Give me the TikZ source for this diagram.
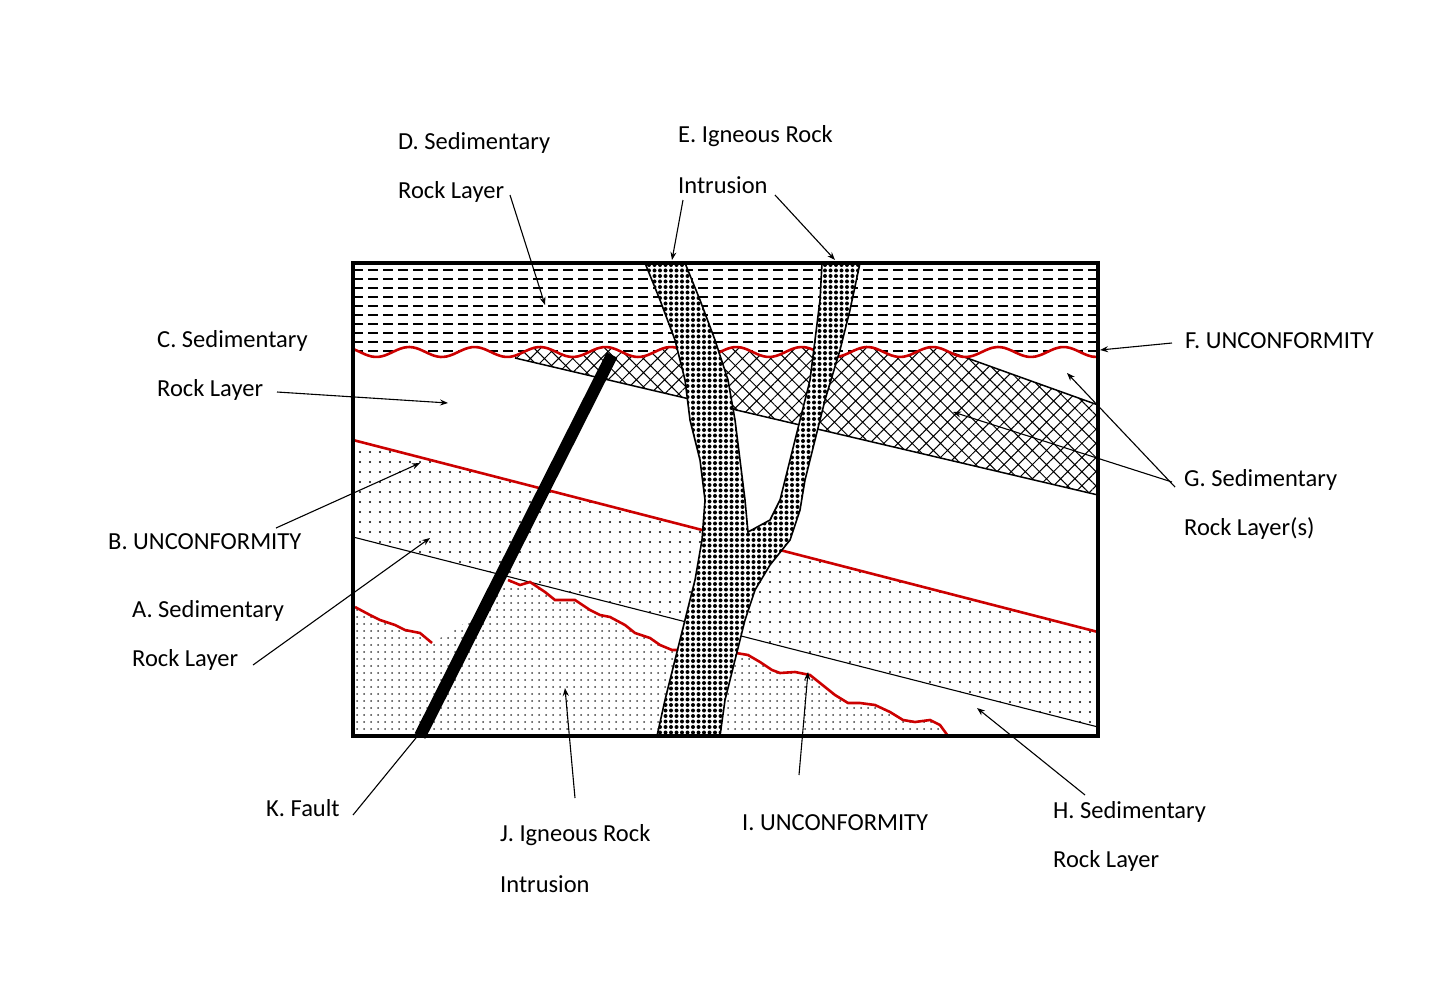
\documentclass[tikz,border=0pt]{standalone}
\usepackage{fontspec}
\setmainfont{Carlito}
\usetikzlibrary{patterns.meta,arrows.meta}
\begin{document}
\begin{tikzpicture}[x=1pt,y=-1pt,
  lbl/.style={anchor=west,inner sep=0pt,font=\fontsize{24.5}{28}\selectfont},
  arr/.style={-{Stealth[length=8pt,width=6pt]},line width=1.1pt},
  redl/.style={draw=red!80!black,line width=2.6pt},
  thin/.style={line width=1.1pt}]
\useasboundingbox (0,0) rectangle (1456,1002);
\fill[white] (0,0) rectangle (1456,1002);
% D dashes
\begin{scope}
\clip (353,263) rectangle (1098,736);
\foreach \y in {270,279,...,360} \draw[line width=1.6pt,dash pattern=on 10pt off 5pt] (353,\y) -- (1098,\y);
\end{scope}
% below wavy white
\fill[white] plot[smooth,domain=353:1098,samples=120] (\x,{352-5*sin(\x*5.5)}) -- (1098,736) -- (353,736) -- cycle;
% G
\path[fill=white,pattern={Hatch[angle=45,distance=10pt,line width=1pt]}] plot[smooth,domain=515:953,samples=60] (\x,{352-5*sin(\x*5.5)}) -- (1098,405) -- (1098,495) -- (515,358) -- cycle;
\draw[thin,line width=1.5pt] (515,358) -- (1098,495);
\draw[thin,line width=1.5pt] (953,353) -- (1098,405);
% A
\path[pattern={Dots[distance=10pt,radius=1.2pt]}] (353,440) -- (1098,632) -- (1098,727) -- (353,537) -- cycle;
\draw[thin] (353,537) -- (1098,727);
% J
\path[pattern={Dots[distance=7pt,radius=1pt]},pattern color=black!75] (355,607) -- (370,615) -- (380,620) -- (395,625) -- (405,630) -- (420,633) -- (432,643) -- (470,620) -- (508,580) -- (520,585) -- (530,582) -- (545,592) -- (555,600) -- (575,600) -- (590,610) -- (600,615) -- (610,617) -- (625,625) -- (635,633) -- (650,638) -- (660,645) -- (672,650) -- (736,653) -- (748,655) -- (760,662) -- (772,670) -- (780,673) -- (795,672) -- (810,675) -- (820,683) -- (835,695) -- (848,703) -- (860,703) -- (875,705) -- (890,712) -- (903,720) -- (915,722) -- (930,720) -- (940,725) -- (948,736) -- (355,736) -- cycle;
\draw[redl] (355,607) -- (370,615) -- (380,620) -- (395,625) -- (405,630) -- (420,633) -- (432,643);
\draw[redl] (508,580) -- (520,585) -- (530,582) -- (545,592) -- (555,600) -- (575,600) -- (590,610) -- (600,615) -- (610,617) -- (625,625) -- (635,633) -- (650,638) -- (660,645) -- (672,650) -- (683,650);
\draw[redl] (736,653) -- (748,655) -- (760,662) -- (772,670) -- (780,673) -- (795,672) -- (810,675) -- (820,683) -- (835,695) -- (848,703) -- (860,703) -- (875,705) -- (890,712) -- (903,720) -- (915,722) -- (930,720) -- (940,725) -- (948,736);
% red lines
\draw[redl] plot[smooth,domain=353:1098,samples=120] (\x,{352-5*sin(\x*5.5)});
\draw[redl] (353,440) -- (1098,632);
% dike
\draw[line width=1.6pt,fill=white,postaction={pattern={Dots[distance=5.5pt,radius=2pt]}}]
 (645,263) -- (660,300) -- (675,340) -- (685,380) -- (690,420) -- (700,460) -- (705,500) -- (702,540) -- (695,580) -- (685,620) -- (675,660) -- (665,700) -- (657,736)
 -- (720,736) -- (725,700) -- (735,660) -- (745,620) -- (755,590) -- (770,565) -- (790,540) -- (800,510) -- (805,480) -- (815,440) -- (825,400) -- (840,350) -- (850,310) -- (860,263)
 -- (822,263) -- (820,300) -- (815,340) -- (810,380) -- (800,420) -- (790,460) -- (780,500) -- (770,520) -- (748,532) -- (745,500) -- (740,460) -- (735,420) -- (728,380) -- (715,340) -- (700,300) -- (685,263) -- cycle;
% fault
\draw[line width=12pt] (612,355) -- (420,736);
% box
\draw[line width=3.5pt] (353,263) rectangle (1098,736);
% labels
\node[lbl] (d1) at (398,143) {D. Sedimentary};
\node[lbl] (d2) at (398,192) {Rock Layer};
\node[lbl] (e1) at (678,136) {E. Igneous Rock};
\node[lbl] (e2) at (678,185) {Intrusion};
\node[lbl] (c1) at (157,341) {C. Sedimentary};
\node[lbl] (c2) at (157,390) {Rock Layer};
\node[lbl] (f) at (1185,341) {F. UNCONFORMITY};
\node[lbl] (g1) at (1184,480) {G. Sedimentary};
\node[lbl] (g2) at (1184,529) {Rock Layer(s)};
\node[lbl] (b) at (108,542) {B. UNCONFORMITY};
\node[lbl] (a1) at (132,611) {A. Sedimentary};
\node[lbl] (a2) at (132,660) {Rock Layer};
\node[lbl] (k) at (266,808) {K. Fault};
\node[lbl] (j1) at (500,835) {J. Igneous Rock};
\node[lbl] (j2) at (500,884) {Intrusion};
\node[lbl] (i) at (742,823) {I. UNCONFORMITY};
\node[lbl] (h1) at (1053,812) {H. Sedimentary};
\node[lbl] (h2) at (1053,861) {Rock Layer};
% arrow targets
\coordinate (td) at (545,305);
\coordinate (te1) at (672,260);
\coordinate (te2) at (835,260);
\coordinate (tc) at (448,403);
\coordinate (tf) at (1100,350);
\coordinate (tg1) at (1067,373);
\coordinate (tg2) at (953,412);
\coordinate (tb) at (420,463);
\coordinate (ta) at (430,538);
\coordinate (tk) at (420,733);
\coordinate (tj) at (565,688);
\coordinate (ti) at (808,672);
\coordinate (th) at (977,708);
\draw[arr] (510,195) -- (td);
\draw[arr] (683,200) -- (te1);
\draw[arr] (775,195) -- (te2);
\draw[arr] (277,392) -- (tc);
\draw[arr] (1172,343) -- (tf);
\draw[arr] (1175,487) -- (tg1);
\draw[arr] (1172,482) -- (tg2);
\draw[arr] (276,528) -- (tb);
\draw[arr] (253,665) -- (ta);
\draw[thin] (353,815) -- (tk);
\draw[arr] (575,798) -- (tj);
\draw[arr] (799,775) -- (ti);
\draw[arr] (1085,795) -- (th);
\end{tikzpicture}
\end{document}
